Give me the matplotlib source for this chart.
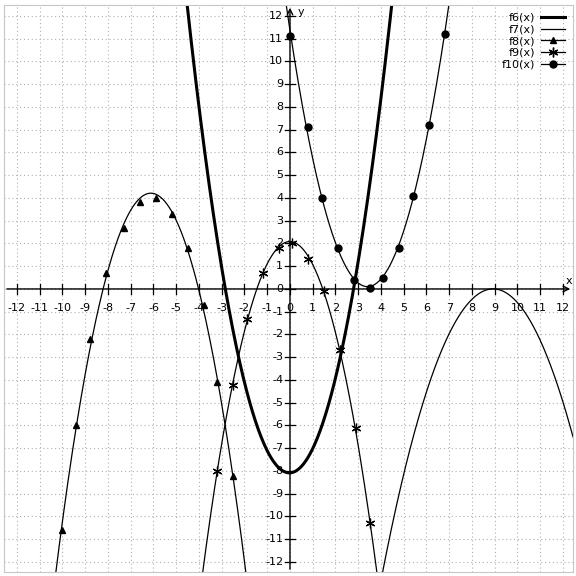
import numpy as np
import matplotlib
matplotlib.use("Agg")
import matplotlib.pyplot as plt

# values
f6_x = [-4.5, -2.83, 0.0, 2.83, 4.45]
f6_y = [12.25, 0.0, -8.0, 0.0, 12.4]
f7_x = [4.06, 9.0, 12.44]
f7_y = [-12.5, 0.0, -6.5]
f8_x = [-10.0, -9.4, -8.8, -8.1, -7.3, -6.6, -5.9, -5.2, -4.5, -3.8, -3.2, -2.5]
f8_y = [-10.6, -6.0, -2.2, 0.7, 2.7, 3.8, 4.0, 3.3, 1.8, -0.7, -4.1, -8.2]
f9_x = [-3.2, -2.5, -1.9, -1.2, -0.5, 0.1, 0.8, 1.5, 2.2, 2.9, 3.5]
f9_y = [-8.0, -4.2, -1.3, 0.7, 1.8, 2.0, 1.3, -0.1, -2.7, -6.1, -10.3]
f10_x = [0.0, 0.8, 1.4, 2.1, 2.8, 3.5, 4.1, 4.8, 5.4, 6.1, 6.8]
f10_y = [11.1, 7.1, 4.0, 1.8, 0.4, 0.05, 0.5, 1.8, 4.1, 7.2, 11.2]
labels = ["f6(x)", "f7(x)", "f8(x)", "f9(x)", "f10(x)"]
ticks = list(range(-12, 13))

XMIN, XMAX, YMIN, YMAX = -12.57, 12.44, -12.44, 12.48

fig = plt.figure(figsize=(5.76, 5.76), dpi=100)
ax = fig.add_axes([4/576, 4/576, 569/576, 567/576])
ax.set_xlim(XMIN, XMAX)
ax.set_ylim(YMIN, YMAX)
for s in ax.spines.values():
    s.set_color("#c8c8c8")
ax.set_xticks([]); ax.set_yticks([])
for t in ticks:
    ax.axvline(t, color="#b0b0b0", lw=0.8, ls=(0, (1, 2.5)), zorder=0)
    ax.axhline(t, color="#b0b0b0", lw=0.8, ls=(0, (1, 2.5)), zorder=0)

xs = np.linspace(XMIN, XMAX, 800)
def curve(px, py):
    c = np.polyfit(px, py, 2)
    return np.polyval(c, xs)

ax.plot(xs, curve(f6_x, f6_y), color="black", lw=2.2, label=labels[0])
ax.plot(xs, curve(f7_x, f7_y), color="black", lw=0.9, label=labels[1])
y8 = curve(f8_x, f8_y); y9 = curve(f9_x, f9_y); y10 = curve(f10_x, f10_y)
ax.plot(xs, y8, color="black", lw=0.9)
ax.plot(xs, y9, color="black", lw=0.9)
ax.plot(xs, y10, color="black", lw=0.9)
ax.plot(f8_x, f8_y, ls="none", marker="^", ms=5, color="black")
ax.plot(f9_x, f9_y, ls="none", marker=(6, 2, 0), ms=7, mew=0.9, color="black")
ax.plot(f10_x, f10_y, ls="none", marker="o", ms=5, color="black")
# legend handles
ax.plot([], [], color="black", lw=0.9, marker="^", ms=5, label=labels[2])
ax.plot([], [], color="black", lw=0.9, marker=(6, 2, 0), ms=7, label=labels[3])
ax.plot([], [], color="black", lw=0.9, marker="o", ms=5, label=labels[4])

# axes through origin
ax.annotate("", xy=(XMAX, 0), xytext=(XMIN, 0),
            arrowprops=dict(arrowstyle="->", lw=1.0, color="black"), zorder=5)
ax.annotate("", xy=(0, YMAX), xytext=(0, YMIN),
            arrowprops=dict(arrowstyle="->", lw=1.0, color="black"), zorder=5)
ax.text(XMAX - 0.05, 0.15, "x", ha="right", va="bottom", fontsize=8)
ax.text(0.35, YMAX - 0.1, "y", ha="left", va="top", fontsize=8)
for t in ticks:
    ax.plot([t, t], [-0.22, 0.22], color="black", lw=0.9, zorder=5)
    ax.plot([-0.22, 0.22], [t, t], color="black", lw=0.9, zorder=5)
    ax.text(t, -0.6, str(t), ha="center", va="top", fontsize=8)
    if t != 0:
        ax.text(-0.3, t, str(t), ha="right", va="center", fontsize=8)
ax.text(-0.3, 0, "0", ha="right", va="center", fontsize=8)

ax.legend(loc="upper right", frameon=False, markerfirst=False, fontsize=8,
          handlelength=2.2, labelspacing=0.15, borderaxespad=0.3, handletextpad=0.5)
fig.savefig("out.png", dpi=100)
